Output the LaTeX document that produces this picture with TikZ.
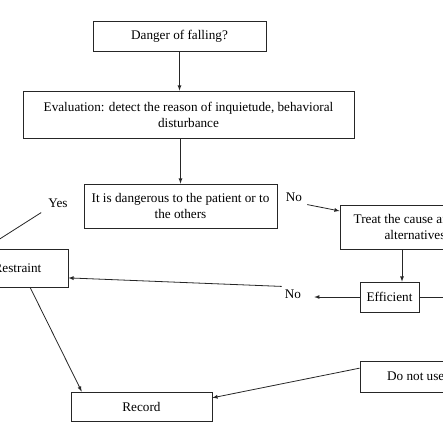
\documentclass[tikz,border=0pt]{standalone}
\usepackage{fontspec}
\setmainfont{Liberation Serif}
\usetikzlibrary{calc}

\begin{document}
\begin{tikzpicture}[
          x=1pt, y=-1pt,
          box/.style={rectangle, draw=black!85, line width=0.8pt, fill=white,
                      inner sep=0pt, align=center,
                      font=\fontsize{13.2}{16}\selectfont},
          lbl/.style={font=\fontsize{13.2}{16}\selectfont, inner sep=3pt},
          arr/.style={-latex, line width=0.8pt, black!85}
        ]
          \useasboundingbox (0,0) rectangle (443,443);
          \clip (0,0) rectangle (443,443);
          \node[box, minimum width=173pt, minimum height=30pt] (danger) at (179.5,36)  {Danger of falling?};
          \node[box, minimum width=331pt, minimum height=47pt] (eval)   at (188.5,114.5)
            {Evaluation: detect the reason of inquietude, behavioral\\disturbance};
          \node[box, minimum width=193pt, minimum height=44pt] (risk)   at (180.5,206)
            {It is dangerous to the patient or to\\the others};
          \node[box, minimum width=150pt, minimum height=44pt] (treat)  at (415,227)
            {Treat the cause and use\\alternatives};
          \node[box, minimum width=59pt, minimum height=30pt]  (eff)    at (389.5,297) {Efficient};
          \node[box, minimum width=101pt, minimum height=38pt] (restr)  at (17.5,268)  {Restraint};
          \node[box, minimum width=141pt, minimum height=29pt] (record) at (141.5,406.5) {Record};
          \node[box, minimum width=158pt, minimum height=31pt] (donot)  at (439,376.5)
            {Do not use restraint};
          \node[lbl] (yes) at (58,203)  {Yes};
          \node[lbl] (no1) at (294,197) {No};
          \node[lbl] (no2) at (293,294) {No};
          \coordinate (effyes) at (470,297);
          \draw[arr] (danger.south) -- (danger.south |- eval.north);
          \draw[arr] (risk.north |- eval.south) -- (risk.north);
          \draw[arr] ([xshift=-4pt,yshift=-2pt]yes.south west) -- ([xshift=18pt]restr.north west);
          \draw[arr] ([xshift=2pt]no1.south east) -- (treat.168);
          \draw[arr] ([xshift=12.5pt]eff.north |- treat.south) -- ([xshift=12.5pt]eff.north);
          \draw[arr, shorten >=10pt] (eff.west) -- (eff.west -| no2.east);
          \draw[arr] (eff.east) -- (effyes);
          \draw[arr] (no2.north west) -- (restr.-11);
          \draw[arr] (restr.-57) -- (record.166);
          \draw[arr] (donot.174) -- (record.7);
        \end{tikzpicture}
\end{document}
